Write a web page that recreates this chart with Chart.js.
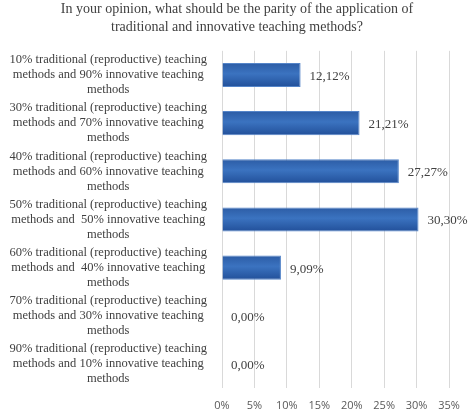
<!DOCTYPE html>
<html>
<head>
<meta charset="utf-8">
<script src="https://cdn.jsdelivr.net/npm/chart.js@4"></script>
<style>
  html, body { margin: 0; padding: 0; background: #fff; }
  #wrap { width: 474px; height: 417px; }
</style>
</head>
<body>
<div id="wrap"><canvas id="parityChart"></canvas></div>
<script>
const titleLines = [
  'In your opinion, what should be the parity of the application of',
  'traditional and innovative teaching methods?'
];

const categories = [
  ['10% traditional (reproductive) teaching', 'methods and 90% innovative teaching', 'methods'],
  ['30% traditional (reproductive) teaching', 'methods and 70% innovative teaching', 'methods'],
  ['40% traditional (reproductive) teaching', 'methods and 60% innovative teaching', 'methods'],
  ['50% traditional (reproductive) teaching', 'methods and  50% innovative teaching', 'methods'],
  ['60% traditional (reproductive) teaching', 'methods and  40% innovative teaching', 'methods'],
  ['70% traditional (reproductive) teaching', 'methods and 30% innovative teaching', 'methods'],
  ['90% traditional (reproductive) teaching', 'methods and 10% innovative teaching', 'methods']
];

const shares = [12.12, 21.21, 27.27, 30.30, 9.09, 0.00, 0.00];

const xTicks = [0, 5, 10, 15, 20, 25, 30, 35];

const serif = '"Liberation Serif", "DejaVu Serif", serif';

// commas as decimal separator, like the original
function fmt(v) {
  return v.toFixed(2).replace('.', ',') + '%';
}

function barFill(ctx) {
  const chart = ctx.chart;
  const y = chart.scales.y;
  if (!y || ctx.dataIndex === undefined) return '#3468b3';
  const c = y.getPixelForValue(ctx.dataIndex);
  if (!isFinite(c)) return '#3468b3';
  const g = chart.ctx.createLinearGradient(0, c - 12, 0, c + 12);
  g.addColorStop(0, '#2c5ca5');
  g.addColorStop(0.45, '#3b73c0');
  g.addColorStop(1, '#22509a');
  return g;
}

const valueLabels = {
  id: 'valueLabels',
  afterDatasetsDraw(chart) {
    const ctx = chart.ctx;
    const meta = chart.getDatasetMeta(0);
    ctx.save();
    ctx.font = '13px ' + serif;
    ctx.fillStyle = '#404040';
    ctx.textAlign = 'left';
    ctx.textBaseline = 'middle';
    meta.data.forEach((bar, i) => {
      ctx.fillText(fmt(shares[i]), bar.x + 9, bar.y + 1.5);
    });
    ctx.restore();
  }
};

new Chart(document.getElementById('parityChart'), {
  type: 'bar',
  data: {
    labels: categories,
    datasets: [{
      data: shares,
      backgroundColor: barFill,
      borderColor: '#5585c9',
      borderWidth: 1,
      barPercentage: 0.5,
      categoryPercentage: 1
    }]
  },
  options: {
    indexAxis: 'y',
    responsive: true,
    maintainAspectRatio: false,
    animation: false,
    layout: { padding: 0 },
    plugins: {
      legend: { display: false },
      tooltip: { enabled: false },
      title: {
        display: true,
        text: titleLines,
        color: '#404040',
        font: { family: serif, size: 14, weight: 'normal', lineHeight: 1.28 },
        padding: { top: 0, bottom: 15 }
      }
    },
    scales: {
      x: {
        min: 0,
        max: 35,
        afterBuildTicks(scale) {
          scale.ticks = xTicks.map(v => ({ value: v }));
        },
        afterFit(scale) {
          scale.height = 29;
          scale.paddingRight = 25;
        },
        grid: { color: '#d9d9d9', drawTicks: false },
        border: { display: false },
        ticks: {
          padding: 11,
          color: '#595959',
          font: { family: '"Open Sans", sans-serif', size: 11 },
          callback: v => v + '%'
        }
      },
      y: {
        afterFit(scale) {
          scale.width = 222;
          scale.paddingTop = 0;
          scale.paddingBottom = 0;
        },
        grid: { display: false, drawTicks: false },
        border: { display: false },
        ticks: {
          crossAlign: 'center',
          padding: 15,
          color: '#404040',
          font: { family: serif, size: 12.5, lineHeight: 1.2 }
        }
      }
    }
  },
  plugins: [valueLabels]
});
</script>
</body>
</html>
